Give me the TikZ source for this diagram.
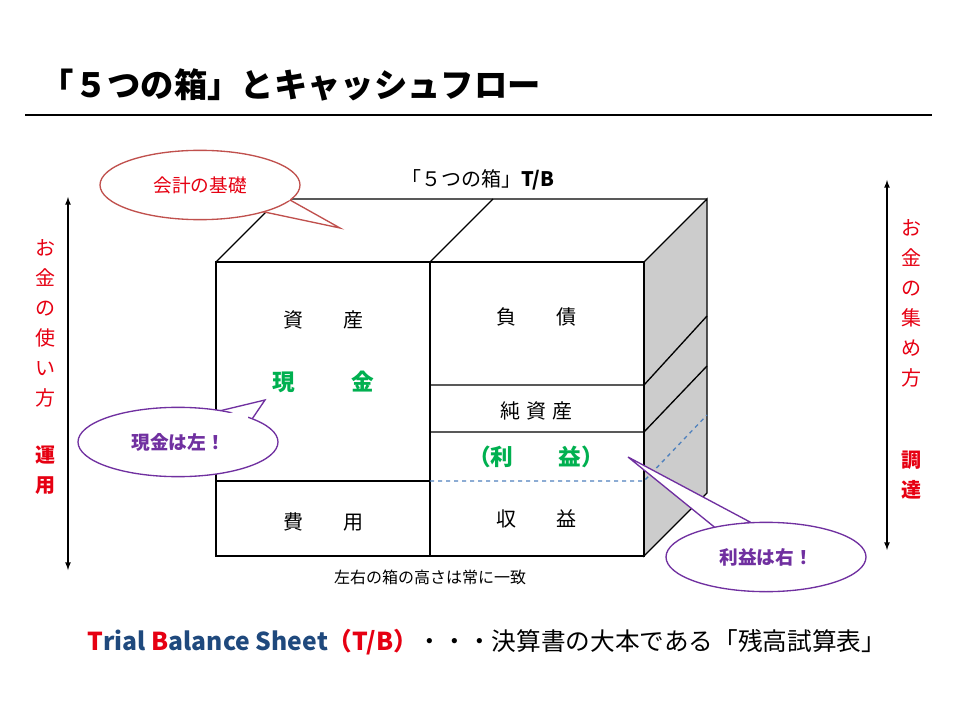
\documentclass[tikz,border=0pt]{standalone}
\usepackage{fontspec}
\usetikzlibrary{shapes.geometric}
\setmainfont{Noto Sans CJK JP}
\definecolor{myred}{RGB}{230,0,18}
\definecolor{mygreen}{RGB}{0,176,80}
\definecolor{mypurple}{RGB}{112,48,160}
\definecolor{callred}{RGB}{192,80,77}
\definecolor{navy}{RGB}{31,73,125}
\definecolor{dashblue}{RGB}{79,129,189}
\begin{document}
\begin{tikzpicture}[x=0.75pt,y=-0.75pt,
  lbl/.style={font=\fontsize{15}{18}\selectfont},
  call/.style={ellipse,draw,line width=1pt,fill=white,minimum width=150pt,minimum height=52pt,font=\fontsize{14}{16}\selectfont}]
\useasboundingbox (0,0) rectangle (960,720);
\node[anchor=west,font=\fontsize{25}{28}\selectfont\bfseries] (title) at (36,85) {「５つの箱」とキャッシュフロー};
\draw[line width=1.5pt] (25,115) coordinate(l1) -- (932,115) coordinate(l2);
% box
\coordinate (A) at (216,262); \coordinate (B) at (644,262); \coordinate (C) at (644,556); \coordinate (D) at (216,556);
\draw[fill=gray!40,line width=1pt] (644,262) -- (707,199) -- (707,493) -- (644,556) -- cycle;
\draw[line width=1pt] (216,262) -- (279,199) -- (707,199);
\draw[line width=1pt] (430,262) -- (493,199);
\draw[line width=1pt,fill=white] (A) rectangle (C);
\draw[line width=1pt] (430,262) -- (430,556);
\draw[line width=1pt] (216,481) -- (430,481);
\draw[line width=1pt] (430,385) -- (644,385) -- (707,316);
\draw[line width=1pt] (430,432) -- (644,432) -- (707,366);
\draw[dashblue,dashed,line width=1pt] (430,481) -- (644,481) -- (707,415);
\node[lbl] (t1) at (323,320) {資\hspace{2em}産};
\node[lbl,text=mygreen,font=\fontsize{17}{20}\selectfont\bfseries] (t2) at (323,382) {現\hspace{2.5em}金};
\node[lbl] (t3) at (323,522) {費\hspace{2em}用};
\node[lbl] (t4) at (536,317) {負\hspace{2em}債};
\node[lbl] (t5) at (536,411) {純\hspace{0.3em}資\hspace{0.3em}産};
\node[lbl,text=mygreen,font=\fontsize{17}{20}\selectfont\bfseries] (t6) at (536,457) {（利\hspace{2em}益）};
\node[lbl] (t7) at (536,519) {収\hspace{2em}益};
\node[font=\fontsize{15}{18}\selectfont] (hd) at (478,180) {「５つの箱」\textbf{T/B}};
\node[font=\fontsize{12}{14}\selectfont] (ft) at (430,577) {左右の箱の高さは常に一致};
% callouts
\draw[callred,line width=1pt,fill=white] (255,210) -- (340,228) -- (290,200) -- cycle;
\node[call,draw=callred,text=myred] (c1) at (200,185) {会計の基礎};
\fill[white] (262,208) -- (290,200) -- (285,190) -- (258,198) -- cycle;
\draw[mypurple,line width=1pt,fill=white] (215,412) -- (265,400) -- (248,425) -- cycle;
\node[call,draw=mypurple,text=mypurple,font=\fontsize{14}{16}\selectfont\bfseries] (c2) at (178,442) {現金は左！};
\fill[white] (222,415) -- (250,408) -- (246,426) -- (228,428) -- cycle;
\draw[mypurple,line width=1pt,fill=white] (718,530) -- (628,457) -- (750,522) -- cycle;
\node[call,draw=mypurple,text=mypurple,font=\fontsize{14}{16}\selectfont\bfseries] (c3) at (766,557) {利益は右！};
\fill[white] (722,532) -- (748,526) -- (748,536) -- (725,538) -- cycle;
% arrows
\draw[<->,>=latex,line width=1pt] (68,197) coordinate(a1) -- (68,570) coordinate(a2);
\draw[<->,>=latex,line width=1pt] (887,180) coordinate(b1) -- (887,550) coordinate(b2);
\node[text=myred,align=center,font=\fontsize{15}{22.5}\selectfont] (v1) at (45,323) {お\\金\\の\\使\\い\\方};
\node[text=myred,align=center,font=\fontsize{15}{22.5}\selectfont\bfseries] (v2) at (45,470) {運\\用};
\node[text=myred,align=center,font=\fontsize{15}{22.5}\selectfont] (v3) at (911,303) {お\\金\\の\\集\\め\\方};
\node[text=myred,align=center,font=\fontsize{15}{22.5}\selectfont\bfseries] (v4) at (911,475) {調\\達};
\node[font=\fontsize{18.5}{22}\selectfont] (bt) at (487,642) {\textbf{\textcolor{myred}{T}\textcolor{navy}{rial }\textcolor{myred}{B}\textcolor{navy}{alance Sheet}\textcolor{myred}{（T/B）}}・・・決算書の大本である「残高試算表」};
\end{tikzpicture}
\end{document}
